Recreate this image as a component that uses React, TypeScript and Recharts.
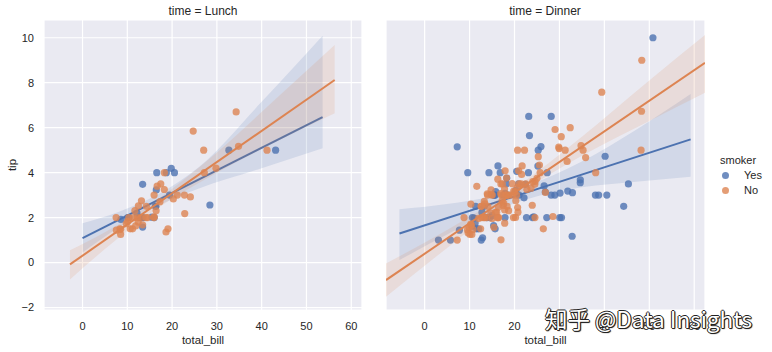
import React from 'react';
import { ComposedChart, Scatter, Line, Area, XAxis, YAxis, CartesianGrid } from 'recharts';

const BLUE = '#4c72b0';
const ORANGE = '#dd8452';
const FONT = '"Liberation Sans", Arial, sans-serif';

// tips: total_bill / tip, split by time and smoker
const lunchYesBill = [19.44, 32.68, 16.0, 19.81, 28.44, 15.48, 16.58, 10.34, 43.11, 13.0, 13.51, 18.71, 12.74, 13.0, 16.4, 20.53, 16.47, 12.16, 13.42, 8.58, 13.42, 16.27, 10.09];
const lunchYesTip = [3.0, 5.0, 2.0, 4.19, 2.56, 2.02, 4.0, 2.0, 5.0, 2.0, 2.0, 4.0, 2.01, 2.0, 2.5, 4.0, 3.23, 2.2, 3.48, 1.92, 1.58, 2.5, 2.0];

const lunchNoBill = [27.2, 22.76, 17.29, 16.66, 10.07, 15.98, 34.83, 13.03, 18.28, 24.71, 21.16, 10.65, 12.43, 24.08, 11.69, 13.42, 14.26, 15.95, 12.48, 29.8, 8.52, 14.52, 11.38, 22.82, 19.08, 20.27, 11.17, 12.26, 18.26, 8.51, 10.33, 14.15, 13.16, 17.47, 34.3, 41.19, 27.05, 16.43, 8.35, 18.64, 11.87, 9.78, 7.51, 7.56, 15.98];
const lunchNoTip = [4.0, 3.0, 2.71, 3.4, 1.83, 2.03, 5.17, 2.0, 4.0, 5.85, 3.0, 1.5, 1.8, 2.92, 2.31, 1.68, 2.5, 2.0, 2.52, 4.2, 1.48, 2.0, 2.0, 2.18, 1.5, 2.83, 1.5, 2.0, 3.25, 1.25, 2.0, 2.0, 2.75, 3.5, 6.7, 5.0, 5.0, 2.3, 1.5, 1.36, 1.63, 1.73, 2.0, 1.44, 3.0];

const dinnerYesBill = [38.01, 11.24, 20.29, 13.81, 11.02, 18.29, 3.07, 15.01, 26.86, 25.28, 17.92, 28.97, 5.75, 16.32, 40.17, 27.28, 12.03, 21.01, 11.35, 15.38, 44.3, 22.42, 15.36, 20.49, 25.21, 14.31, 17.51, 10.59, 10.63, 50.81, 15.81, 7.25, 31.85, 16.82, 32.9, 17.89, 14.48, 9.6, 34.63, 34.65, 23.33, 45.35, 23.17, 40.55, 20.9, 30.46, 18.15, 23.1, 15.69, 26.59, 38.73, 24.27, 12.76, 30.06, 25.89, 13.27, 28.17, 12.9, 28.15, 11.59, 7.74, 30.14, 22.12, 24.01, 15.69, 15.53, 12.6, 32.83, 27.18, 22.67];
const dinnerYesTip = [3.0, 1.76, 3.21, 2.0, 1.98, 3.76, 1.0, 2.09, 3.14, 5.0, 3.08, 3.0, 1.0, 4.3, 4.73, 4.0, 1.5, 3.0, 2.5, 3.0, 2.5, 3.48, 1.64, 4.06, 4.29, 4.0, 3.0, 1.61, 2.0, 10.0, 3.16, 5.15, 3.18, 4.0, 3.11, 2.0, 2.0, 4.0, 3.55, 3.68, 5.65, 3.5, 6.5, 3.0, 3.5, 2.0, 3.5, 4.0, 1.5, 3.41, 3.0, 2.03, 2.23, 2.0, 5.16, 2.5, 6.5, 1.1, 3.0, 1.5, 1.44, 3.09, 2.88, 2.0, 3.0, 3.0, 1.0, 1.17, 2.0, 2.0];

const dinnerNoBill = [16.99, 10.34, 21.01, 23.68, 24.59, 25.29, 8.77, 26.88, 15.04, 14.78, 10.27, 35.26, 15.42, 18.43, 14.83, 21.58, 10.33, 16.29, 16.97, 20.65, 17.92, 20.29, 15.77, 39.42, 19.82, 17.81, 13.37, 12.69, 21.7, 19.65, 9.55, 18.35, 15.06, 20.69, 17.78, 24.06, 16.31, 16.93, 18.69, 31.27, 16.04, 17.46, 13.94, 9.68, 30.4, 18.29, 22.23, 32.4, 28.55, 18.04, 12.54, 10.29, 34.81, 9.94, 25.56, 19.49, 26.41, 48.27, 17.59, 20.08, 16.45, 20.23, 12.02, 17.07, 14.73, 10.51, 22.49, 22.75, 12.46, 20.92, 18.24, 14.0, 7.25, 38.07, 23.95, 25.71, 17.31, 29.93, 14.07, 13.13, 17.26, 24.55, 19.77, 29.85, 48.17, 25.0, 13.39, 16.49, 21.5, 12.66, 16.21, 13.81, 24.52, 20.76, 31.71, 20.69, 48.33, 20.45, 13.28, 11.61, 10.77, 10.07, 35.83, 29.03, 17.82, 18.78];
const dinnerNoTip = [1.01, 1.66, 3.5, 3.31, 3.61, 4.71, 2.0, 3.12, 1.96, 3.23, 1.71, 5.0, 1.57, 3.0, 3.02, 3.92, 1.67, 3.71, 3.5, 3.35, 4.08, 2.75, 2.23, 7.58, 3.18, 2.34, 2.0, 2.0, 4.3, 3.0, 1.45, 2.5, 3.0, 2.45, 3.27, 3.6, 2.0, 3.07, 2.31, 5.0, 2.24, 2.54, 3.06, 1.32, 5.6, 3.0, 5.0, 6.0, 2.05, 3.0, 2.5, 2.6, 5.2, 1.56, 4.34, 3.51, 1.5, 6.73, 2.64, 3.15, 2.47, 2.01, 1.97, 3.0, 2.2, 1.25, 3.5, 3.25, 1.5, 4.08, 3.76, 3.0, 1.0, 4.0, 2.55, 4.0, 3.5, 5.07, 2.5, 2.0, 2.74, 2.0, 2.0, 5.14, 5.0, 3.75, 2.61, 2.0, 3.5, 2.5, 2.0, 2.0, 3.48, 2.24, 4.5, 5.0, 9.0, 3.0, 2.72, 3.39, 1.47, 1.25, 4.67, 5.92, 1.75, 3.0];

// x extent of each fitted line, as drawn
const lunchYesFitRange = [0, 53.6];
const lunchNoFitRange = [-2.8, 56.3];
const dinnerYesFitRange = [-5.6, 59.2];
const dinnerNoFitRange = [-8.6, 62.4];

// confidence band edges
const lunchYesBandX = [0, 8, 17, 26, 40, 53.6];
const lunchYesBandLo = [0.45, 1.55, 2.55, 3.3, 4.2, 5.08];
const lunchYesBandHi = [1.75, 2.25, 3.05, 4.25, 7.15, 10.09];

const lunchNoBandX = [-2.8, 5, 17, 30, 43, 56.3];
const lunchNoBandLo = [-0.75, 0.6, 2.45, 4.0, 5.35, 6.64];
const lunchNoBandHi = [0.55, 1.35, 2.85, 4.9, 7.25, 9.68];

const dinnerYesBandX = [-5.6, 5, 15, 22, 35, 47, 59.2];
const dinnerYesBandLo = [0.11, 1.25, 2.25, 2.77, 3.35, 3.6, 3.82];
const dinnerYesBandHi = [2.37, 2.6, 2.95, 3.37, 4.5, 5.9, 7.5];

const dinnerNoBandX = [-8.6, 5, 20, 35, 50, 62.4];
const dinnerNoBandLo = [-1.52, 0.65, 2.92, 4.75, 6.3, 7.55];
const dinnerNoBandHi = [-0.04, 1.45, 3.3, 5.6, 8.1, 10.12];

const xTicks = [0, 10, 20, 30, 40, 50, 60];
const yTicks = [-2, 0, 2, 4, 6, 8, 10];
const X_DOMAIN = [-8.6, 62.4];
const Y_DOMAIN = [-2.11, 10.79];

const toPoints = (xs: number[], ys: number[]) => xs.map((x, i) => ({ x, y: ys[i] }));

const fitLine = (xs: number[], ys: number[], range: number[]) => {
  const n = xs.length;
  const mx = xs.reduce((a, b) => a + b, 0) / n;
  const my = ys.reduce((a, b) => a + b, 0) / n;
  let sxy = 0;
  let sxx = 0;
  xs.forEach((x, i) => {
    sxy += (x - mx) * (ys[i] - my);
    sxx += (x - mx) * (x - mx);
  });
  const slope = sxy / sxx;
  const icpt = my - slope * mx;
  return range.map((x) => ({ x, y: icpt + slope * x }));
};

const toBand = (xs: number[], lo: number[], hi: number[]) =>
  xs.map((x, i) => ({ x, range: [lo[i], hi[i]] }));

const fmtTick = (v: number) => (v < 0 ? '\u2212' + Math.abs(v) : String(v));

const dot = (color: string) => (p: any) => (
  <circle cx={p.cx} cy={p.cy} r={3.6} fill={color} fillOpacity={0.8} stroke="none" />
);

const tickStyle = { fontSize: 11, fill: '#262626', fontFamily: FONT };

interface PanelProps {
  yes: { x: number; y: number }[];
  no: { x: number; y: number }[];
  yesFit: { x: number; y: number }[];
  noFit: { x: number; y: number }[];
  yesBand: { x: number; range: number[] }[];
  noBand: { x: number; range: number[] }[];
  showY: boolean;
}

const Panel: React.FC<PanelProps> = ({ yes, no, yesFit, noFit, yesBand, noBand, showY }) => (
  <ComposedChart
    width={showY ? 365 : 335}
    height={352}
    margin={{ top: 20, right: showY ? 3 : 2, bottom: 12, left: showY ? 0 : 14 }}
  >
    <CartesianGrid fill="#eaeaf2" stroke="#ffffff" strokeWidth={1.2} />
    <XAxis
      type="number"
      dataKey="x"
      domain={X_DOMAIN}
      ticks={xTicks}
      allowDataOverflow
      axisLine={false}
      tickLine={false}
      tickMargin={6}
      height={30}
      tick={tickStyle}
      label={{ value: 'total_bill', position: 'bottom', offset: -4, style: { fontSize: 11.5, fill: '#262626', fontFamily: FONT } }}
    />
    <YAxis
      type="number"
      domain={Y_DOMAIN}
      ticks={yTicks}
      allowDataOverflow
      axisLine={false}
      tickLine={false}
      width={showY ? 44 : 0}
      tick={showY ? tickStyle : false}
      tickFormatter={fmtTick}
      tickMargin={4}
    />
    <Scatter data={yes} dataKey="y" shape={dot(BLUE)} isAnimationActive={false} zIndex={101} />
    <Area data={yesBand} dataKey="range" type="monotone" fill={BLUE} fillOpacity={0.15} stroke="none" isAnimationActive={false} zIndex={102} />
    <Line data={yesFit} dataKey="y" stroke={BLUE} strokeWidth={2} dot={false} activeDot={false} isAnimationActive={false} zIndex={103} />
    <Scatter data={no} dataKey="y" shape={dot(ORANGE)} isAnimationActive={false} zIndex={104} />
    <Area data={noBand} dataKey="range" type="monotone" fill={ORANGE} fillOpacity={0.15} stroke="none" isAnimationActive={false} zIndex={105} />
    <Line data={noFit} dataKey="y" stroke={ORANGE} strokeWidth={2} dot={false} activeDot={false} isAnimationActive={false} zIndex={106} />
  </ComposedChart>
);

const App: React.FC = () => {
  const titleStyle: React.CSSProperties = {
    position: 'absolute',
    top: 4,
    fontSize: 12,
    color: '#262626',
    fontFamily: FONT,
    textAlign: 'center',
    width: 200,
  };
  return (
    <div style={{ position: 'absolute', left: 0, top: 0, width: 772, height: 352, background: '#fff', fontFamily: FONT }}>
      <div style={{ position: 'absolute', left: 0, top: 0 }}>
        <Panel
          yes={toPoints(lunchYesBill, lunchYesTip)}
          no={toPoints(lunchNoBill, lunchNoTip)}
          yesFit={fitLine(lunchYesBill, lunchYesTip, lunchYesFitRange)}
          noFit={fitLine(lunchNoBill, lunchNoTip, lunchNoFitRange)}
          yesBand={toBand(lunchYesBandX, lunchYesBandLo, lunchYesBandHi)}
          noBand={toBand(lunchNoBandX, lunchNoBandLo, lunchNoBandHi)}
          showY
        />
      </div>
      <div style={{ position: 'absolute', left: 372, top: 0 }}>
        <Panel
          yes={toPoints(dinnerYesBill, dinnerYesTip)}
          no={toPoints(dinnerNoBill, dinnerNoTip)}
          yesFit={fitLine(dinnerYesBill, dinnerYesTip, dinnerYesFitRange)}
          noFit={fitLine(dinnerNoBill, dinnerNoTip, dinnerNoFitRange)}
          yesBand={toBand(dinnerYesBandX, dinnerYesBandLo, dinnerYesBandHi)}
          noBand={toBand(dinnerNoBandX, dinnerNoBandLo, dinnerNoBandHi)}
          showY={false}
        />
      </div>
      <div style={{ ...titleStyle, left: 103 }}>time = Lunch</div>
      <div style={{ ...titleStyle, left: 445 }}>time = Dinner</div>
      <div
        style={{
          position: 'absolute',
          left: 12,
          top: 165,
          transform: 'translate(-50%, -50%) rotate(-90deg)',
          fontSize: 11.5,
          color: '#262626',
        }}
      >
        tip
      </div>
      <div style={{ position: 'absolute', left: 720, top: 153, fontSize: 11, color: '#262626', lineHeight: '15px' }}>
        <div>smoker</div>
        <div style={{ display: 'flex', alignItems: 'center' }}>
          <span style={{ display: 'inline-block', width: 7, height: 7, borderRadius: 4, background: BLUE, opacity: 0.8, marginLeft: 2, marginRight: 15 }} />
          Yes
        </div>
        <div style={{ display: 'flex', alignItems: 'center' }}>
          <span style={{ display: 'inline-block', width: 7, height: 7, borderRadius: 4, background: ORANGE, opacity: 0.8, marginLeft: 2, marginRight: 15 }} />
          No
        </div>
      </div>
      <div
        style={{
          position: 'absolute',
          left: 545,
          top: 305,
          fontSize: 22.5,
          fontFamily: '"Noto Sans CJK SC", "Noto Sans", sans-serif',
          color: '#fff',
          whiteSpace: 'nowrap',
          textShadow: '1px 0 0 #222, -1px 0 0 #222, 0 1px 0 #222, 0 -1px 0 #222, 1px 1px 1px #000',
          lineHeight: '26px',
        }}
      >
        知乎 @Data Insights
      </div>
    </div>
  );
};

export default App;
